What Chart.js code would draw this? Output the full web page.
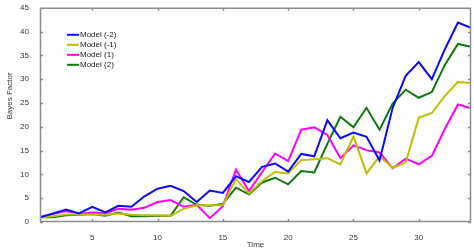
<!DOCTYPE html>
<html>
<head>
<meta charset="utf-8">
<script src="https://cdn.jsdelivr.net/npm/chart.js@4/dist/chart.umd.min.js"></script>
<style>
  html, body { margin: 0; padding: 0; background: #fff; }
  #wrap { width: 474px; height: 250px; position: relative; }
</style>
</head>
<body>
<div id="wrap"><canvas id="bayesChart"></canvas></div>
<script>
// time steps on the x axis
const times = [1, 2, 3, 4, 5, 6, 7, 8, 9, 10, 11, 12, 13, 14, 15, 16, 17,
  18, 19, 20, 21, 22, 23, 24, 25, 26, 27, 28, 29, 30, 31, 32, 33, 34];

const modelMinus2 = [1.0, 1.8, 2.6, 1.8, 3.2, 2.0, 3.4, 3.2, 5.4, 7.0, 7.6, 6.5, 4.2, 6.6, 6.1, 9.6, 8.4,
  11.6, 12.3, 10.6, 14.3, 13.8, 21.4, 17.6, 18.8, 17.9, 12.9, 24.0, 30.7, 33.6, 30.0, 36.3, 41.9, 40.8];
const modelMinus1 = [1.0, 1.2, 1.6, 1.6, 1.6, 1.5, 1.8, 1.5, 1.4, 1.4, 1.3, 2.8, 3.5, 3.5, 3.5, 9.0, 6.0,
  8.6, 10.5, 10.2, 13.0, 13.2, 13.4, 12.1, 18.0, 10.2, 13.8, 11.4, 12.5, 21.9, 22.9, 26.5, 29.4, 29.2];
const modelPlus1 = [1.0, 1.7, 2.3, 1.7, 2.0, 1.8, 2.8, 2.6, 3.0, 4.2, 4.6, 3.2, 3.6, 0.8, 3.3, 11.0, 6.5,
  10.5, 14.4, 12.8, 19.4, 19.9, 18.3, 13.4, 16.1, 15.1, 14.6, 11.3, 13.3, 12.1, 13.9, 19.6, 24.7, 23.9];
const modelPlus2 = [1.0, 1.0, 1.4, 1.5, 1.7, 1.3, 2.0, 1.2, 1.2, 1.3, 1.3, 5.2, 3.6, 3.4, 3.8, 7.2, 5.8,
  8.3, 9.3, 7.9, 10.7, 10.4, 16.4, 22.1, 19.9, 24.0, 19.4, 24.9, 27.8, 26.1, 27.3, 33.0, 37.4, 36.8];

const xTicks = [5, 10, 15, 20, 25, 30];
const yTicks = [0, 5, 10, 15, 20, 25, 30, 35, 40, 45];

const FONT = 'Liberation Sans, Arial, sans-serif';

function toPoints(vals) {
  return vals.map((v, i) => ({ x: times[i], y: v }));
}

function series(label, vals, color) {
  return {
    label,
    data: toPoints(vals),
    borderColor: color,
    backgroundColor: color,
    borderWidth: 2,
    pointRadius: 0,
    tension: 0,
    fill: false
  };
}

// matlab-like box with inward ticks, inline legend and axis titles
const frameAndLegend = {
  id: 'frameAndLegend',
  afterDraw(chart) {
    const { ctx, chartArea: a, scales } = chart;
    const tl = 3;
    ctx.save();
    ctx.strokeStyle = '#8c8c8c';
    ctx.lineWidth = 1.5;
    ctx.beginPath();
    ctx.rect(a.left + 0.5, a.top + 0.5, a.right - a.left - 1, a.bottom - a.top - 1);
    scales.x.ticks.forEach(t => {
      const px = Math.round(scales.x.getPixelForValue(t.value)) + 0.5;
      ctx.moveTo(px, a.bottom); ctx.lineTo(px, a.bottom - tl);
      ctx.moveTo(px, a.top); ctx.lineTo(px, a.top + tl);
    });
    scales.y.ticks.forEach(t => {
      const py = Math.round(scales.y.getPixelForValue(t.value)) + 0.5;
      ctx.moveTo(a.left, py); ctx.lineTo(a.left + tl, py);
      ctx.moveTo(a.right, py); ctx.lineTo(a.right - tl, py);
    });
    ctx.stroke();

    // legend
    ctx.font = '8px ' + FONT;
    ctx.textBaseline = 'middle';
    chart.data.datasets.forEach((ds, i) => {
      const y = a.top + 27 + i * 10;
      ctx.strokeStyle = ds.borderColor;
      ctx.lineWidth = 2;
      ctx.beginPath();
      ctx.moveTo(a.left + 27, y); ctx.lineTo(a.left + 39, y);
      ctx.stroke();
      ctx.fillStyle = '#222';
      ctx.textAlign = 'left';
      ctx.fillText(ds.label, a.left + 40, y);
    });

    // axis titles
    ctx.fillStyle = '#333';
    ctx.textAlign = 'center';
    ctx.fillText('Time', (a.left + a.right) / 2, 245);
    ctx.translate(10, 96);
    ctx.rotate(-Math.PI / 2);
    ctx.fillText('Bayes Factor', 0, 0);
    ctx.restore();
  }
};

new Chart(document.getElementById('bayesChart'), {
  type: 'line',
  data: {
    datasets: [
      series('Model (-2)', modelMinus2, '#0a0aff'),
      series('Model (-1)', modelMinus1, '#bfbf00'),
      series('Model (1)', modelPlus1, '#ff00ff'),
      series('Model (2)', modelPlus2, '#0a7a0a')
    ]
  },
  options: {
    responsive: true,
    maintainAspectRatio: false,
    animation: false,
    layout: { padding: { top: 6, right: 3, left: 0, bottom: 0 } },
    plugins: { legend: { display: false }, tooltip: { enabled: false } },
    scales: {
      x: {
        type: 'linear',
        min: 1,
        max: 34,
        afterBuildTicks: s => { s.ticks = xTicks.map(v => ({ value: v })); },
        afterFit: s => { s.height = 28; },
        grid: { display: false },
        border: { display: false },
        ticks: { color: '#333', font: { family: FONT, size: 8 }, padding: 3, maxRotation: 0 }
      },
      y: {
        min: 0,
        max: 45,
        afterBuildTicks: s => { s.ticks = yTicks.map(v => ({ value: v })); },
        afterFit: s => { s.width = 40; },
        grid: { display: false },
        border: { display: false },
        ticks: { color: '#333', font: { family: FONT, size: 8 }, padding: 3 }
      }
    }
  },
  plugins: [frameAndLegend]
});
</script>
</body>
</html>
